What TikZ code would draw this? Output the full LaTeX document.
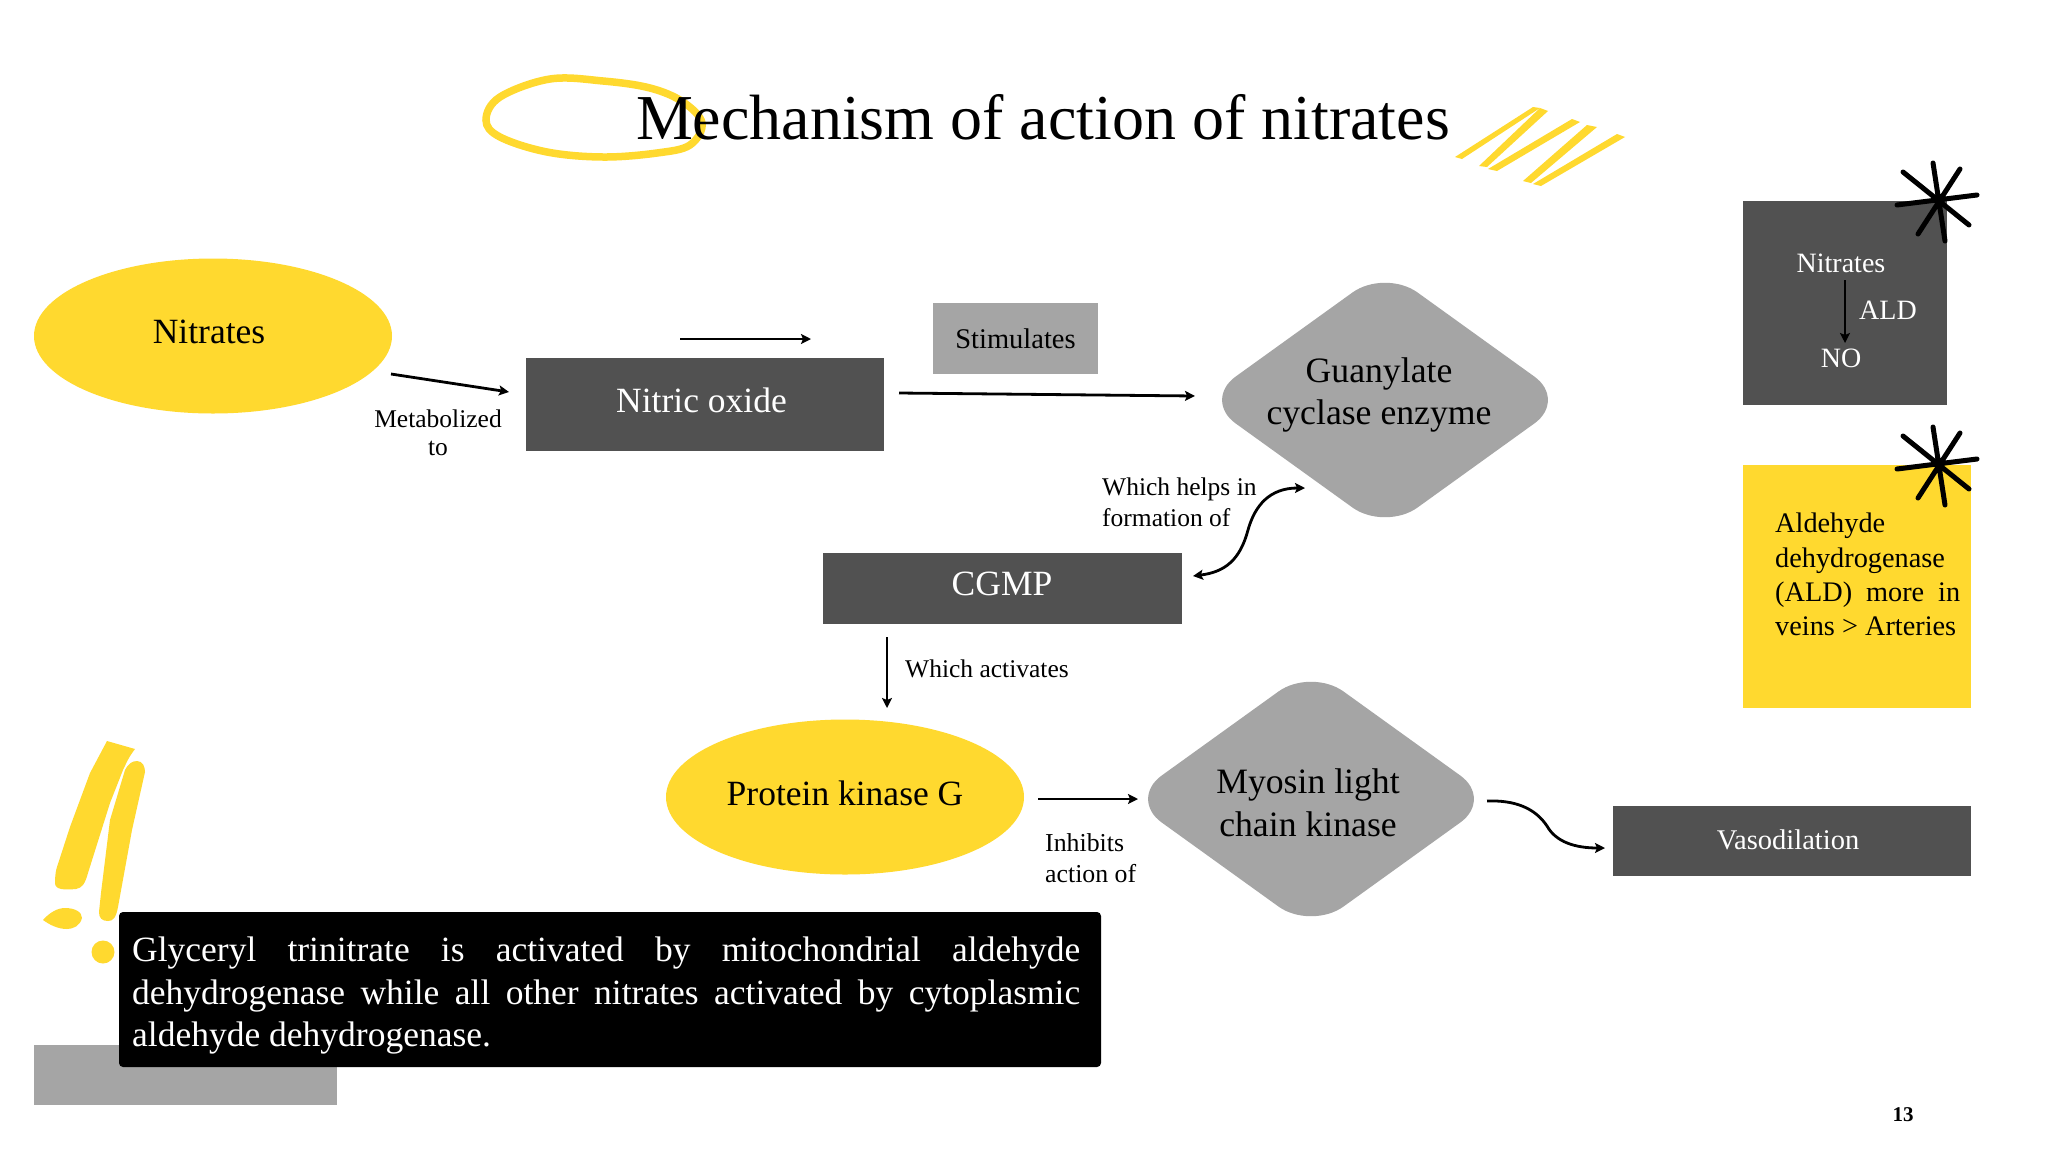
\documentclass[tikz,border=0pt]{standalone}
\usepackage{fontspec}
\setmainfont{Liberation Serif}
\usetikzlibrary{shapes.geometric,arrows.meta}
\definecolor{ylw}{HTML}{FFD92F}
\definecolor{drk}{HTML}{515151}
\definecolor{gry}{HTML}{A5A5A5}
\newcommand{\fs}[2]{\fontsize{#1}{#2}\selectfont}
\tikzset{
  x=1pt,y=-1pt,
  box/.style={rectangle,inner sep=0pt,fill=#1},
  oval/.style={ellipse,inner sep=0pt,fill=ylw,minimum width=358,minimum height=155},
  dmd/.style={diamond,fill=gry,inner sep=0pt,minimum width=364,minimum height=262,rounded corners=40},
  lbl/.style={inner sep=0pt,align=#1,font=\fs{25.5}{31}},
  big/.style={inner sep=0pt,align=center,font=\fs{35.7}{42.5}},
  tip/.style={Stealth[length=10,width=10,inset=2]},
  conn/.style={line width=2.8,-{Stealth[length=10,width=10,inset=2]}},
  dbl/.style={line width=2.8,{Stealth[length=10,width=10,inset=2]}-{Stealth[length=10,width=10,inset=2]}},
  scrib/.style={draw=ylw,line width=7.5},
  star/.style={line width=5,line cap=round,black},
}
\begin{document}
\begin{tikzpicture}
\useasboundingbox (0,0) rectangle (2048,1152);
\fill[white] (0,0) rectangle (2048,1152);
% title scribbles
\draw[scrib] plot[smooth cycle,tension=0.6] coordinates {(486,120) (500,97) (550,79) (603,81) (650,88) (683,102) (702,123) (690,145) (657,153) (603,157) (547,152) (500,137)};
\fill[ylw] (1455,157) -- (1533,107) -- (1540,108) -- (1462,159) -- cycle;
\fill[ylw] (1479,166) -- (1540,108) -- (1548,111) -- (1487,167) -- cycle;
\fill[ylw] (1488,169) -- (1572,119) -- (1580,122) -- (1497,171) -- cycle;
\fill[ylw] (1523,181) -- (1587,125) -- (1597,127) -- (1531,183) -- cycle;
\fill[ylw] (1533,184) -- (1617,134) -- (1625,137) -- (1541,186) -- cycle;
\node[inner sep=0pt,font=\fs{64}{70}] (title) at (1043,117) {Mechanism of action of nitrates};
% main nodes
\node[oval] (nitrates) at (213,336) {};
\node[inner sep=0pt,font=\fs{35.5}{42}] (nitratesT) at (209,332) {Nitrates};
\node[box=drk,minimum width=358,minimum height=93,text=white] (no) at (705,404.5) {};
\node[inner sep=0pt,text=white,font=\fs{35.5}{42}] (noT) at (701.5,400) {Nitric oxide};
\node[box=gry,minimum width=165,minimum height=71,font=\fs{28.5}{34}] (stim) at (1015.5,338.5) {Stimulates};
\node[dmd] (gc) at (1385,400) {};
\node[big] (gcT) at (1379,395) {Guanylate\\cyclase enzyme};
\node[box=drk,minimum width=359,minimum height=71] (cgmp) at (1002.5,588) {};
\node[inner sep=0pt,text=white,font=\fs{35.5}{42}] (cgmpT) at (1002,584) {CGMP};
\node[oval] (pkg) at (845,797) {};
\node[inner sep=0pt,font=\fs{35.5}{42}] (pkgT) at (845,793) {Protein kinase G};
\node[dmd] (mlck) at (1311,799) {};
\node[big] (mlckT) at (1308,803) {Myosin light\\chain kinase};
\node[box=drk,minimum width=358,minimum height=70] (vaso) at (1792,841) {};
\node[inner sep=0pt,text=white,font=\fs{28.5}{34}] (vasoT) at (1788,840) {Vasodilation};
% labels
\node[inner sep=0pt,align=center,font=\fs{25.5}{27.5}] (met) at (438,433) {Metabolized\\to};
\node[lbl=left,anchor=west] (helps) at (1102,502) {Which helps in\\formation of};
\node[lbl=left,anchor=west] (act) at (905,669) {Which activates};
\node[lbl=left,anchor=west,font=\fs{25.8}{31}] (inh) at (1045,858) {Inhibits\\action of};
% connector ends
\coordinate (a1) at (391,374); \coordinate (a2) at (509,392);
\coordinate (b1) at (680,339); \coordinate (b2) at (811,339);
\coordinate (c1) at (899,393); \coordinate (c2) at (1195,396);
\coordinate (d1) at (1305,488); \coordinate (d2) at (1248,530); \coordinate (d3) at (1193,576);
\coordinate (e1) at (887,637); \coordinate (e2) at (887,708);
\coordinate (f1) at (1038,799); \coordinate (f2) at (1138,799);
\coordinate (g1) at (1487,801); \coordinate (g2) at (1605,848);
\draw[conn] (a1) -- (a2);
\draw[conn] (b1) -- (b2);
\draw[conn] (c1) -- (c2);
\draw[dbl] (d3) .. controls (1225,572) and (1240,560) .. (d2) .. controls (1255,505) and (1270,488) .. (d1);
\draw[conn] (e1) -- (e2);
\draw[conn] (f1) -- (f2);
\draw[conn] (g1) .. controls (1515,800) and (1535,808) .. (1547,826) .. controls (1556,842) and (1575,848) .. (g2);
% right boxes
\node[box=drk,minimum width=204,minimum height=204] (nbox) at (1845,303) {};
\node[inner sep=0pt,text=white,font=\fs{28}{34}] (nb1) at (1841,263) {Nitrates};
\node[inner sep=0pt,text=white,font=\fs{28}{34}] (nb2) at (1888,310) {ALD};
\node[inner sep=0pt,text=white,font=\fs{28}{34}] (nb3) at (1841,358) {NO};
\coordinate (h1) at (1845,280); \coordinate (h2) at (1845,343);
\draw[conn,black] (h1) -- (h2);
\draw[star] (1903,172) -- (1969,225) (1933,163) -- (1945,241) (1960,169) -- (1918,234) (1897,205) -- (1977,195);
\node[box=ylw,minimum width=228,minimum height=243] (ybox) at (1857,586.5) {};
\draw[star,yshift=-264] (1903,172) -- (1969,225) (1933,163) -- (1945,241) (1960,169) -- (1918,234) (1897,205) -- (1977,195);
\node[inner sep=0pt,text width=185,align=justify,anchor=north west,font=\fs{28.3}{34.3}] (ytxt) at (1775,513) {Aldehyde\\dehydrogenase\\(ALD) more in\linebreak veins > Arteries};
% exclamation
\fill[ylw] (107,741) -- (135,749) .. controls (128,758) and (126,764) .. (123,770) -- (110,803) -- (88,873) .. controls (85,884) and (82,888) .. (76,889) .. controls (65,890) and (55,890) .. (55,883) .. controls (55,875) and (56,870) .. (57,867) -- (70,827) -- (90,773) -- cycle;
\fill[ylw] (137,761) .. controls (143,761) and (145,767) .. (145,772) -- (132,830) -- (118,907) .. controls (116,918) and (113,921) .. (108,921) .. controls (102,921) and (99,918) .. (99,912) -- (101,893) -- (110,820) -- (125,770) .. controls (128,764) and (132,761) .. (137,761) -- cycle;
\fill[ylw] (43,920) .. controls (50,912) and (58,908) .. (65,908) .. controls (75,908) and (82,912) .. (82,918) .. controls (80,926) and (73,929) .. (67,929) .. controls (58,929) and (50,925) .. (43,920) -- cycle;
\fill[ylw] (103,952) circle[radius=11.5];
\node[box=gry,minimum width=303,minimum height=60] (gbar) at (185.5,1075) {};
\node[box=black,minimum width=982,minimum height=155,rounded corners=4] (note) at (610,989.5) {};
\node[inner sep=0pt,text width=948,text=white,align=justify,anchor=north west,font=\fs{35.5}{42.5}] (notet) at (132,937) {Glyceryl trinitrate is activated by mitochondrial aldehyde\linebreak dehydrogenase while all other nitrates activated by cytoplasmic\linebreak aldehyde dehydrogenase.};
\node[inner sep=0pt,font=\bfseries\fs{21}{24}] (page) at (1903,1115) {13};
\end{tikzpicture}
\end{document}
